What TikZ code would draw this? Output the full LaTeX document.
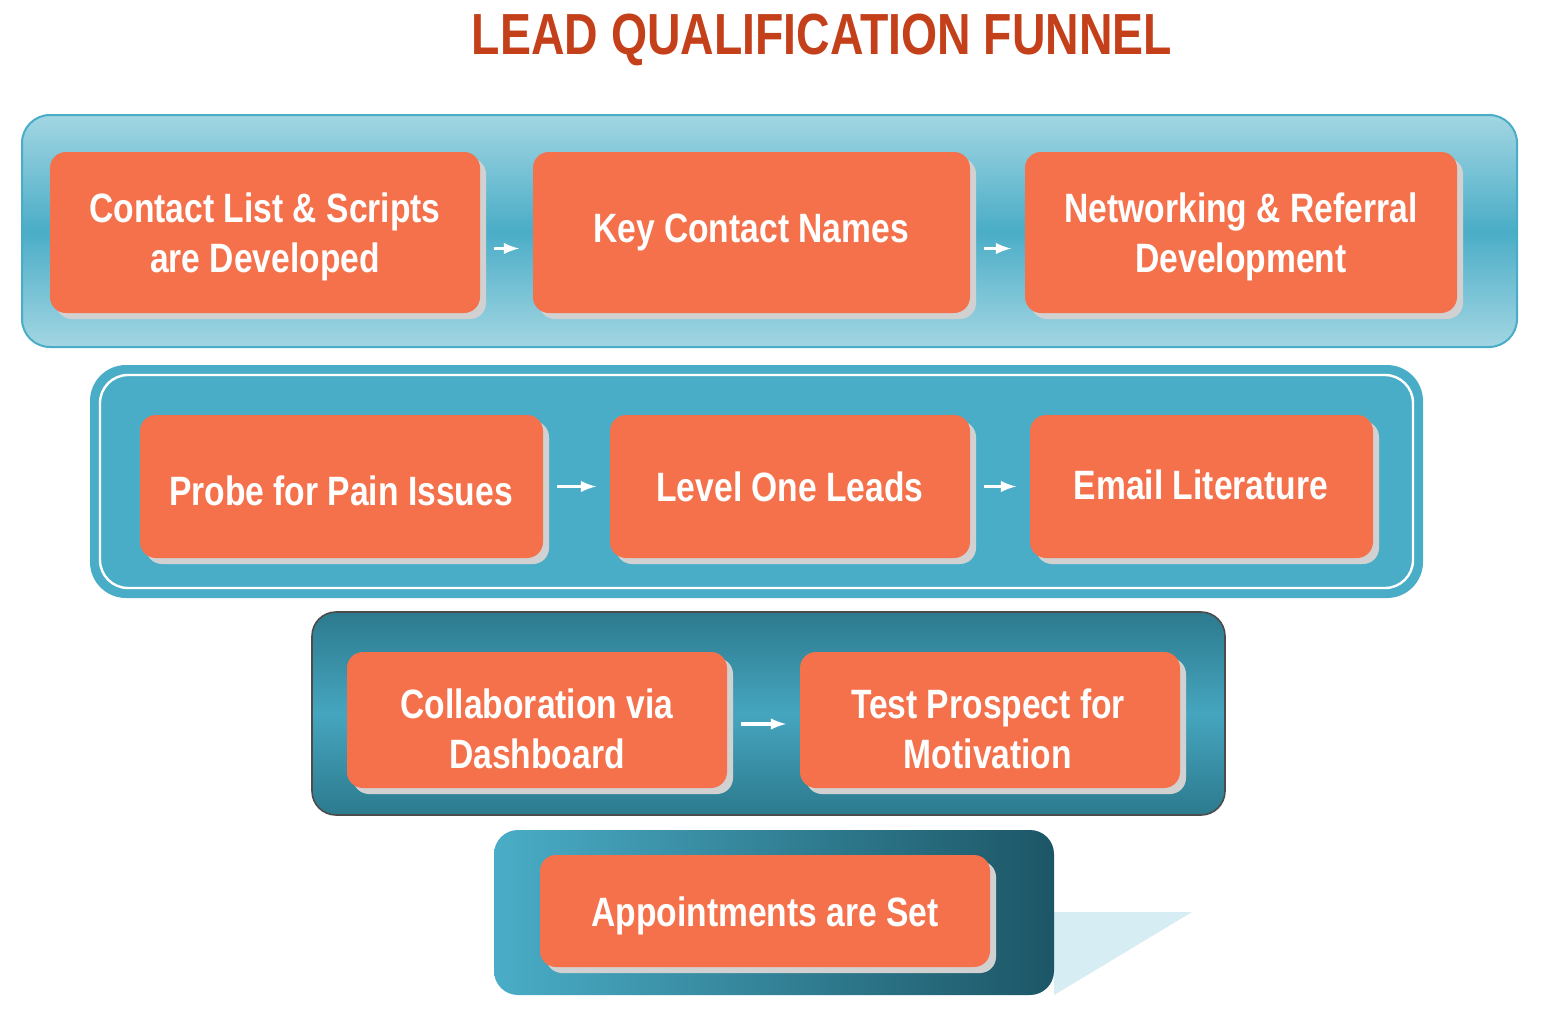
\documentclass[tikz,border=0pt]{standalone}
\usepackage{fontspec}
\setmainfont{Liberation Sans}
\begin{document}
\begin{tikzpicture}[x=0.5pt,y=-0.5pt,
  stepbox/.style={fill=boxor,rounded corners=8pt,draw=none},
  shadowbox/.style={fill=black!18,rounded corners=8pt},
  lbl/.style={text=white,font=\bfseries\fontsize{20.5}{25}\selectfont,align=center,xscale=0.82},
  arr/.style={-latex,white,line width=1.6pt,shorten >=7pt,shorten <=7pt}]
\definecolor{boxor}{HTML}{F4714B}
\definecolor{lb}{HTML}{A3D6E3}
\definecolor{mb}{HTML}{4AADC7}
\definecolor{db}{HTML}{2C7A8E}
\definecolor{ddb}{HTML}{1C5666}
\definecolor{tc}{HTML}{C4401A}
\useasboundingbox (0,0) rectangle (1545,1017);
\fill[white] (0,0) rectangle (1545,1017);
\node (title) at (822,40) [font=\bfseries\fontsize{29}{35}\selectfont,xscale=0.8,text=tc] {LEAD QUALIFICATION FUNNEL};
\shade[top color=lb,bottom color=lb,middle color=mb,rounded corners=14pt,draw=mb,line width=1pt] (22,115) rectangle (1517,347);
\fill[mb,rounded corners=18pt] (90,365) rectangle (1423,598);
\draw[white,line width=1.2pt,rounded corners=14pt] (100,375) rectangle (1413,588);
\shade[top color=db,bottom color=db,middle color=mb!85!db,rounded corners=12pt,draw=black!70,line width=0.8pt] (312,612) rectangle (1225,815);
\fill[lb!45] (1054,912) -- (1192,912) -- (1054,995) -- cycle;
\shade[left color=mb,right color=ddb,rounded corners=12pt] (494,830) rectangle (1054,995);
\foreach \a/\b/\c/\d/\n in {50/152/480/313/a1,533/152/970/313/a2,1025/152/1457/313/a3,
  140/415/543/558/b1,610/415/970/558/b2,1030/415/1373/558/b3,
  347/652/727/788/c1,800/652/1180/788/c2,540/855/990/967/d1}{
  \fill[shadowbox] (\a+6,\b+6) rectangle (\c+6,\d+6);
  \fill[stepbox] (\a,\b) rectangle (\c,\d);
  \node (\n) at ({(\a+\c)/2},{(\b+\d)/2}) [minimum width={(\c-\a)*0.5pt},minimum height={(\d-\b)*0.5pt},inner sep=0pt,outer sep=0pt] {};
}
\node[lbl] at (265,237) {Contact List \& Scripts\\are Developed};
\node[lbl] at (751,232) {Key Contact Names};
\node[lbl] at (1241,237) {Networking \& Referral\\Development};
\node[lbl] at (341,491) {Probe for Pain Issues};
\node[lbl] at (790,487) {Level One Leads};
\node[lbl] at (1201,485) {Email Literature};
\node[lbl] at (537,729) {Collaboration via\\Dashboard};
\node[lbl] at (988,729) {Test Prospect for\\Motivation};
\node[lbl] at (765,916) {Appointments are Set};
\draw[arr] ([yshift=-8pt]a1.east) -- ([yshift=-8pt]a1.east-|a2.west);
\draw[arr] ([yshift=-8pt]a2.east) -- ([yshift=-8pt]a2.east-|a3.west);
\draw[arr] (b1.east) -- (b1.east-|b2.west);
\draw[arr] (b2.east) -- (b2.east-|b3.west);
\draw[arr] ([yshift=-2pt]c1.east) -- ([yshift=-2pt]c1.east-|c2.west);
\end{tikzpicture}
\end{document}
